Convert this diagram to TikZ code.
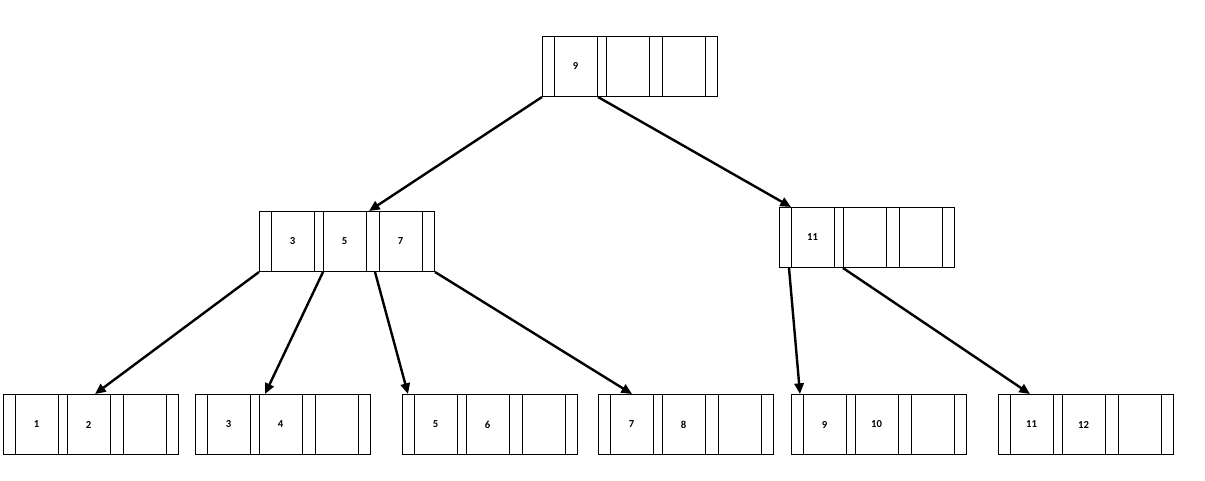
\documentclass[tikz,border=0pt]{standalone}
\usepackage{fontspec}
\setsansfont{Carlito}
\usetikzlibrary{arrows.meta}
\tikzset{every picture/.style={line width=0.75pt}}
\tikzset{
  bnode/.style={draw, minimum width=131.25pt, minimum height=45pt, inner sep=0pt, anchor=north west},
  keytext/.style={font=\sffamily\bfseries\footnotesize, inner sep=0.75pt},
  link/.style={line width=1.8pt, -{Triangle[length=8pt,width=7pt]}}
}
% B-tree node: name, x, y, three keys
\newcommand{\btnode}[6]{%
  \node[bnode] (#1) at (#2,#3) {};
  \foreach \o in {12,55,64,107,120,163}
    \draw ([xshift=\o*0.75pt]#1.north west) -- ([xshift=\o*0.75pt]#1.south west);
  \node[keytext] (#1-k1) at ([xshift=33.5*0.75pt]#1.west) {#4};
  \node[keytext] (#1-k2) at ([xshift=85.5*0.75pt]#1.west) {#5};
  \node[keytext] (#1-k3) at ([xshift=141.5*0.75pt]#1.west) {#6};
}
\begin{document}
\begin{tikzpicture}[x=0.75pt,y=0.75pt,yscale=-1,xscale=1]
\useasboundingbox (0,0) rectangle (1205,481);

% root
\btnode{root}{542}{36}{9}{}{}
% inner level
\btnode{midl}{259}{211}{3}{5}{7}
\btnode{midr}{779}{207}{11}{}{}
% leaves
\btnode{leafa}{3}{394}{1}{2}{}
\btnode{leafb}{195}{394}{3}{4}{}
\btnode{leafc}{402}{394}{5}{6}{}
\btnode{leafd}{598}{394}{7}{8}{}
\btnode{leafe}{791}{394}{9}{10}{}
\btnode{leaff}{998}{394}{11}{12}{}

% pointers
\draw[link] (root.south west) -- ([xshift=110*0.75pt]midl.north west);
\draw[link] ([xshift=56*0.75pt]root.south west) -- ([xshift=12*0.75pt]midr.north west);
\draw[link] (midl.south west) -- ([xshift=92*0.75pt]leafa.north west);
\draw[link] ([xshift=64*0.75pt]midl.south west) -- ([xshift=70*0.75pt]leafb.north west);
\draw[link] ([xshift=116*0.75pt]midl.south west) -- ([xshift=6*0.75pt]leafc.north west);
\draw[link] (midl.south east) -- ([xshift=34*0.75pt]leafd.north west);
\draw[link] ([xshift=10*0.75pt]midr.south west) -- ([xshift=9*0.75pt]leafe.north west);
\draw[link] ([xshift=64*0.75pt]midr.south west) -- ([xshift=32*0.75pt]leaff.north west);
\end{tikzpicture}
\end{document}
